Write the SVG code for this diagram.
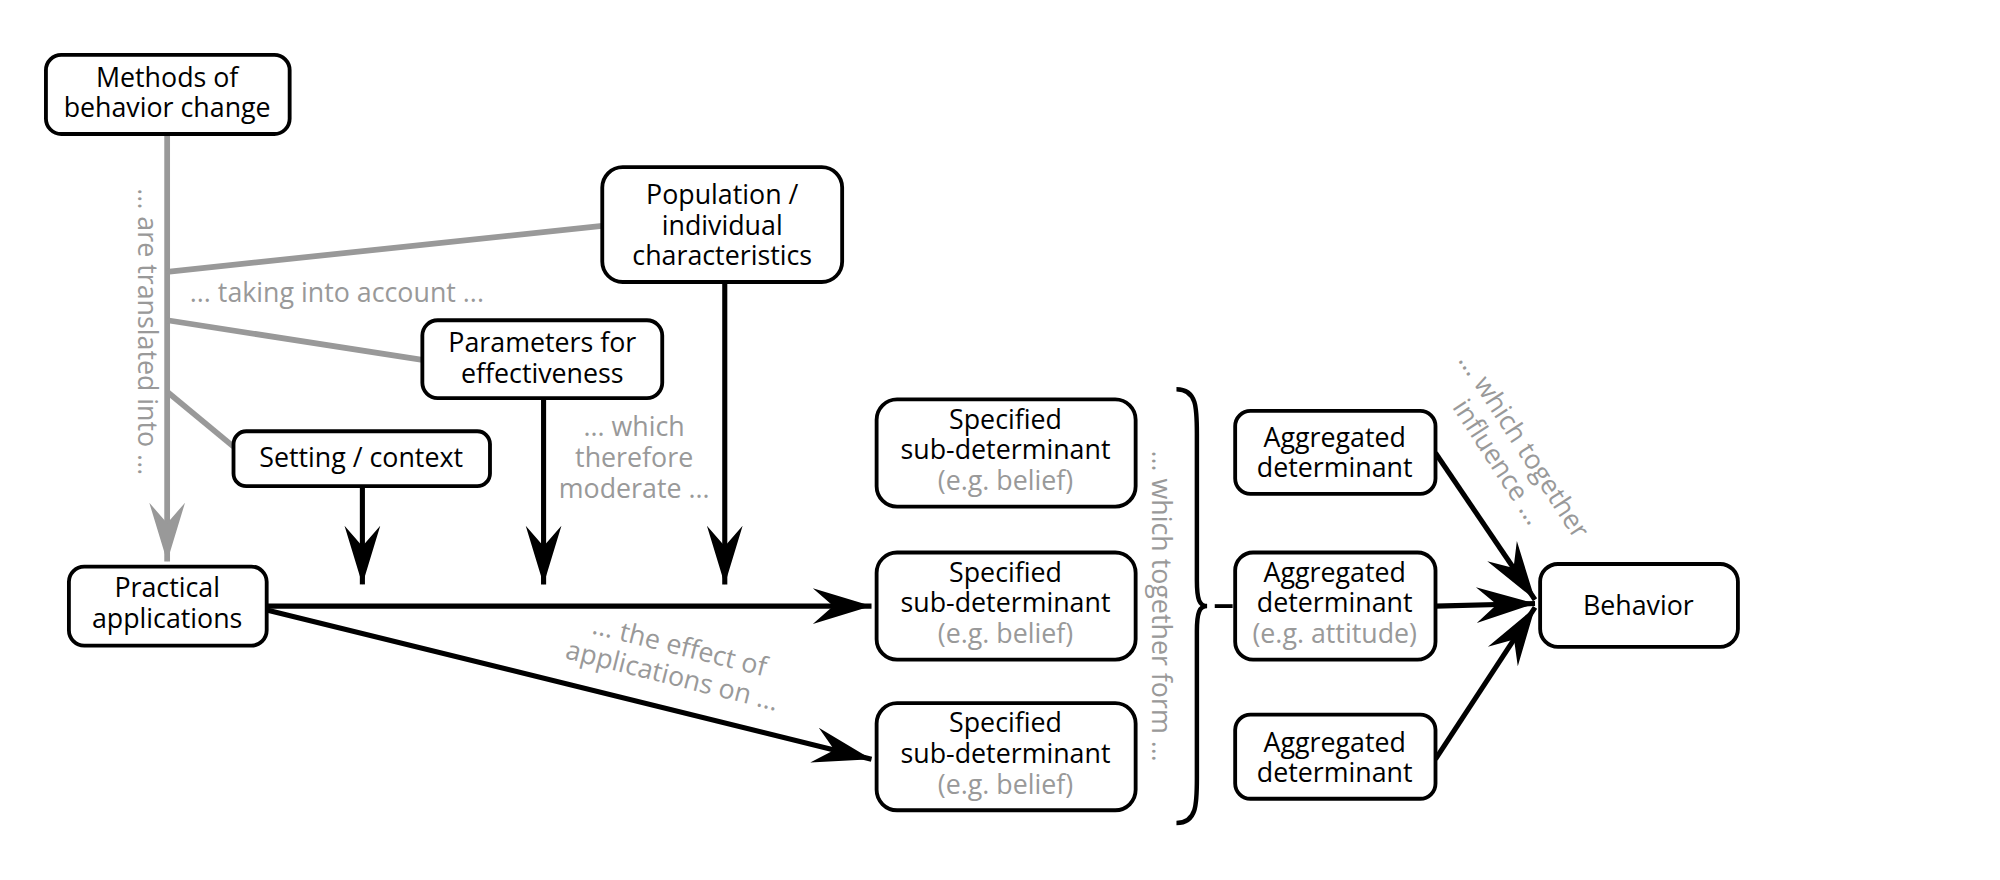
<svg xmlns="http://www.w3.org/2000/svg" width="2000" height="880" viewBox="0 0 2000 880">
<style>
.box{fill:#fff;stroke:#000;stroke-width:3}
text{font-family:"Open Sans","Noto Sans","DejaVu Sans",sans-serif;font-size:21px;text-anchor:middle;fill:#000}
.g{fill:#999}
.bl{stroke:#000;stroke-width:4;fill:none}
.gl{stroke:#999;stroke-width:4.5;fill:none}
</style>
<defs>
<marker id="ab" markerUnits="userSpaceOnUse" markerWidth="50" markerHeight="32" viewBox="-46 -16 48 32" refX="0" refY="0" orient="auto"><path d="M0,0 L-46,-14 L-30,0 L-46,14 Z" fill="#000"/></marker>
<marker id="ag" markerUnits="userSpaceOnUse" markerWidth="50" markerHeight="32" viewBox="-46 -16 48 32" refX="0" refY="0" orient="auto"><path d="M0,0 L-46,-14 L-30,0 L-46,14 Z" fill="#999"/></marker>
</defs>
<rect width="2000" height="880" fill="#fff"/>
<g transform="scale(1.276)">
<g id="connectors">
<line class="gl" x1="131" y1="105" x2="131" y2="440" marker-end="url(#ag)"/>
<line class="gl" x1="131" y1="213" x2="472" y2="177"/>
<line class="gl" x1="131" y1="251" x2="331" y2="282"/>
<line class="gl" x1="131" y1="307" x2="183" y2="350"/>
<line class="bl" x1="284" y1="381" x2="284" y2="458" marker-end="url(#ab)"/>
<line class="bl" x1="426" y1="312" x2="426" y2="458" marker-end="url(#ab)"/>
<line class="bl" x1="568" y1="221" x2="568" y2="458" marker-end="url(#ab)"/>
<line class="bl" x1="209" y1="475" x2="683" y2="475" marker-end="url(#ab)"/>
<line class="bl" x1="209" y1="478" x2="683" y2="595" marker-end="url(#ab)"/>
<path d="M922,305 C938,305 938,320 938,340 L938,455 C938,470 940,475 946,475 C940,475 938,480 938,495 L938,610 C938,630 938,645 922,645" fill="none" stroke="#000" stroke-width="3.5"/>
<line x1="952" y1="475" x2="966" y2="475" stroke="#000" stroke-width="3"/>
<line class="bl" x1="1125" y1="355" x2="1203" y2="470" marker-end="url(#ab)"/>
<line class="bl" x1="1125" y1="475" x2="1203" y2="473" marker-end="url(#ab)"/>
<line class="bl" x1="1125" y1="595" x2="1203" y2="476" marker-end="url(#ab)"/>
<text class="g" transform="translate(115,260) rotate(90)" dy="7">... are translated into ...</text>
<text class="g" x="264" y="237">... taking into account ...</text>
<text class="g" x="497" y="342">... which</text>
<text class="g" x="497" y="366">therefore</text>
<text class="g" x="497" y="390">moderate ...</text>
<g transform="translate(530,517) rotate(14)"><text class="g" y="-4">... the effect of</text><text class="g" y="20">applications on ...</text></g>
<text class="g" transform="translate(910,475) rotate(90)" dy="7">... which together form ...</text>
<g transform="translate(1185,355) rotate(57)"><text class="g" y="-4">... which together</text><text class="g" y="20">influence ...</text></g>
</g>
<g id="methods"><rect class="box" x="36" y="43" width="191" height="62" rx="12"/><text x="131" y="68">Methods of</text><text x="131" y="92">behavior change</text></g>
<g id="population"><rect class="box" x="472" y="131" width="188" height="90" rx="16"/><text x="566" y="160">Population /</text><text x="566" y="184">individual</text><text x="566" y="208">characteristics</text></g>
<g id="parameters"><rect class="box" x="331" y="251" width="188" height="61" rx="12"/><text x="425" y="276">Parameters for</text><text x="425" y="300">effectiveness</text></g>
<g id="setting"><rect class="box" x="183" y="338" width="201" height="43" rx="10"/><text x="283" y="366">Setting / context</text></g>
<g id="practical"><rect class="box" x="54" y="444" width="155" height="62" rx="12"/><text x="131" y="468">Practical</text><text x="131" y="492">applications</text></g>
<g id="spec1"><rect class="box" x="687" y="313" width="203" height="84" rx="16"/><text x="788" y="336">Specified</text><text x="788" y="360">sub-determinant</text><text class="g" x="788" y="384">(e.g. belief)</text></g>
<g id="spec2"><rect class="box" x="687" y="433" width="203" height="84" rx="16"/><text x="788" y="456">Specified</text><text x="788" y="480">sub-determinant</text><text class="g" x="788" y="504">(e.g. belief)</text></g>
<g id="spec3"><rect class="box" x="687" y="551" width="203" height="84" rx="16"/><text x="788" y="574">Specified</text><text x="788" y="598">sub-determinant</text><text class="g" x="788" y="622">(e.g. belief)</text></g>
<g id="agg1"><rect class="box" x="968" y="322" width="157" height="65" rx="12"/><text x="1046" y="350">Aggregated</text><text x="1046" y="374">determinant</text></g>
<g id="agg2"><rect class="box" x="968" y="433" width="157" height="84" rx="14"/><text x="1046" y="456">Aggregated</text><text x="1046" y="480">determinant</text><text class="g" x="1046" y="504">(e.g. attitude)</text></g>
<g id="agg3"><rect class="box" x="968" y="560" width="157" height="66" rx="12"/><text x="1046" y="589">Aggregated</text><text x="1046" y="613">determinant</text></g>
<g id="behavior"><rect class="box" x="1207" y="442" width="155" height="65" rx="14"/><text x="1284" y="482">Behavior</text></g>
</g>
</svg>
